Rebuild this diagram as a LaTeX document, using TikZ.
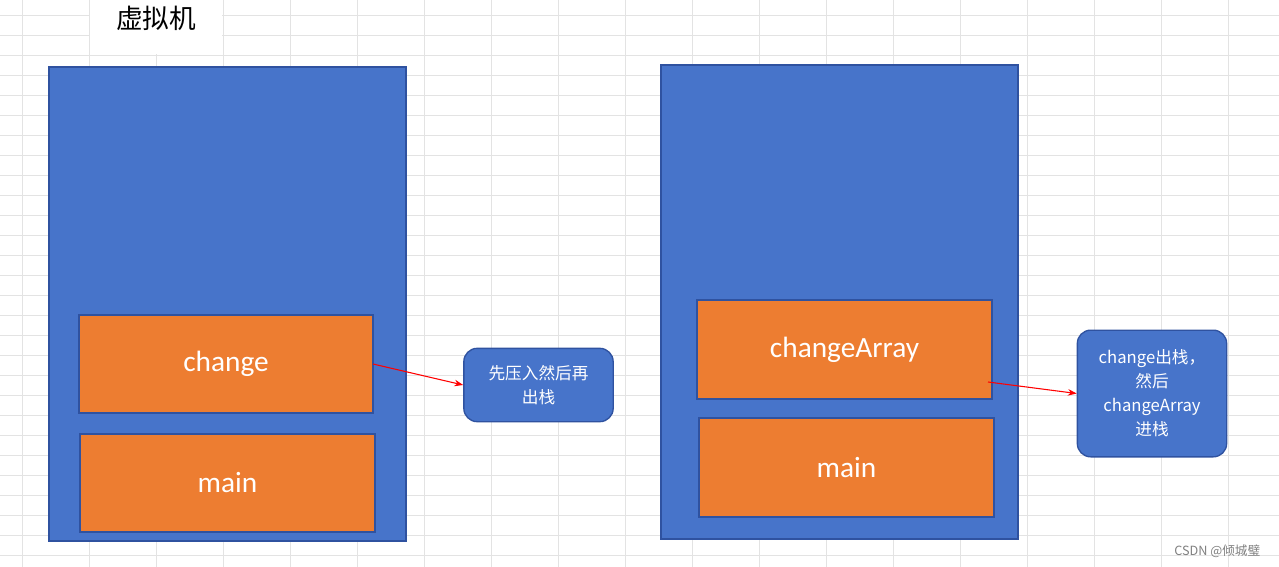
\documentclass[tikz,border=0pt]{standalone}
\usepackage{fontspec}
\setmainfont{Carlito}
\newfontfamily\cjk{Noto Sans CJK SC}
\usetikzlibrary{arrows.meta}
\definecolor{stackblue}{HTML}{4774CA}
\definecolor{edgeblue}{HTML}{2F52A0}
\definecolor{frameorange}{HTML}{ED7D31}
\definecolor{gridgray}{HTML}{E3E3E3}
\begin{document}
\begin{tikzpicture}[x=0.75pt,y=-0.75pt,>=Stealth,
  stack/.style={draw=edgeblue,line width=1.2pt,fill=stackblue},
  frame/.style={draw=edgeblue,line width=1pt,fill=frameorange,font=\fontsize{22}{26}\selectfont,text=white},
  note/.style={draw=edgeblue,line width=1pt,fill=stackblue,rounded corners=10pt,text=white,align=center,font=\cjk\fontsize{12.5}{18}\selectfont},
  link/.style={->,red,line width=0.8pt}]

  \useasboundingbox (0,0) rectangle (1279,567);
  % spreadsheet grid
  \foreach \y in {15,35,...,555} \draw[gridgray] (0,\y) -- (1279,\y);
  \foreach \x in {22,89,...,1279} \draw[gridgray] (\x,0) -- (\x,567);
  \fill[white] (90,0) rectangle (222,54);
  \node[font=\cjk\fontsize{20}{24}\selectfont] (title) at (156,18) {虚拟机};

  % left stack
  \draw[stack] (49,67) rectangle (406,541);
  \draw[frame] (79,315) rectangle node (change) {change} (373,413);
  \draw[frame] (80,434) rectangle node (mainL) {main} (375,532);
  \node[note,minimum width=112pt,minimum height=55pt] (pushnote) at (538.5,385) {先压入然后再\\出栈};
  \coordinate (changeout) at (373,364);
  \draw[link] (changeout) -- (pushnote.west);

  % right stack
  \draw[stack] (661,65) rectangle (1018,539);
  \draw[frame] (697,300) rectangle node (changeArray) {changeArray} (992,399);
  \draw[frame] (699,418) rectangle node (mainR) {main} (994,517);
  \node[note,minimum width=112pt,minimum height=95pt] (popnote) at (1152,393.5) {change出栈，\\然后\\changeArray\\进栈};
  \coordinate (arrayout) at (988,382);
  \draw[link] (arrayout) -- (popnote.west);

  \node[text=gray,font=\cjk\fontsize{9.5}{11}\selectfont,anchor=east] (mark) at (1265,551) {CSDN @倾城璧};
\end{tikzpicture}
\end{document}
